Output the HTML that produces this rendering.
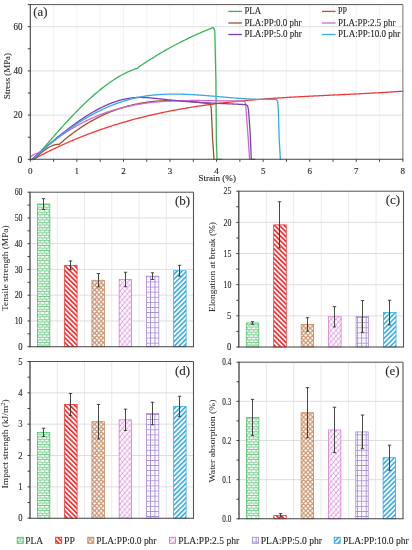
<!DOCTYPE html>
<html><head><meta charset="utf-8"><style>
html,body{margin:0;padding:0;background:#fff;}
svg{display:block;will-change:transform;}
text{font-family:"Liberation Serif", serif;stroke:#2e2e2e;stroke-width:0.15px;}
</style></head><body>
<svg width="412" height="550" viewBox="0 0 412 550">
<rect width="412" height="550" fill="#fff"/>

<defs>
<pattern id="p_green" patternUnits="userSpaceOnUse" width="8.8" height="5.1" x="0.3" y="0.2">
  <rect width="8.8" height="5.1" fill="#fff"/>
  <rect x="0" y="0" width="8.8" height="0.65" fill="#49bd66"/>
  <rect x="0" y="2.95" width="8.8" height="0.65" fill="#49bd66"/>
  <rect x="0" y="0" width="0.65" height="3" fill="#49bd66"/>
  <rect x="4.4" y="0" width="0.65" height="3" fill="#49bd66"/>
  <rect x="2.2" y="2.9" width="0.65" height="2.2" fill="#49bd66"/>
  <rect x="6.6" y="2.9" width="0.65" height="2.2" fill="#49bd66"/>
</pattern>
<pattern id="p_red" patternUnits="userSpaceOnUse" width="3.4" height="3.4" patternTransform="rotate(-45)">
  <rect width="3.4" height="3.4" fill="#fff"/>
  <rect width="1.6" height="3.4" fill="#ff2424"/>
</pattern>
<pattern id="p_blue" patternUnits="userSpaceOnUse" width="3.4" height="3.4" patternTransform="rotate(45)">
  <rect width="3.4" height="3.4" fill="#fff"/>
  <rect width="1.5" height="3.4" fill="#2da7e2"/>
</pattern>
<pattern id="p_purple" patternUnits="userSpaceOnUse" width="4.4" height="5.1" x="0.5" y="1">
  <rect width="4.4" height="5.1" fill="#fff"/>
  <rect width="4.4" height="0.85" fill="#a68bd8"/>
  <rect width="0.85" height="5.1" fill="#a68bd8"/>
  <rect y="2.5" width="4.4" height="0.5" fill="#a68bd8" opacity="0.3"/>
</pattern>
<pattern id="p_pink" patternUnits="userSpaceOnUse" width="4.8" height="5.6">
  <rect width="4.8" height="5.6" fill="#fff"/>
  <path d="M-0.48,6.16 L5.28,-0.56 M-0.48,0.56 L0.48,-0.56 M4.32,6.16 L5.28,5.04" stroke="#d674d6" stroke-width="0.8" fill="none"/>
  <path d="M-0.48,-0.56 L5.28,6.16" stroke="#d674d6" stroke-width="0.65" fill="none" opacity="0.8"/>
</pattern>
<pattern id="p_brown" patternUnits="userSpaceOnUse" width="4.4" height="4.8">
  <rect width="4.4" height="4.8" fill="#fff"/>
  <path d="M-0.5,-0.5 Q2.8,1.4 4.9,5.3 M4.9,-0.5 Q1.6,1.4 -0.5,5.3" stroke="#c4845a" stroke-width="0.95" fill="none"/>
</pattern>
</defs>
<line x1="53.59" y1="4.6" x2="53.59" y2="159.3" stroke="#f0f0f0" stroke-width="0.8"/>
<line x1="76.87" y1="4.6" x2="76.87" y2="159.3" stroke="#f0f0f0" stroke-width="0.8"/>
<line x1="100.16" y1="4.6" x2="100.16" y2="159.3" stroke="#f0f0f0" stroke-width="0.8"/>
<line x1="123.44" y1="4.6" x2="123.44" y2="159.3" stroke="#f0f0f0" stroke-width="0.8"/>
<line x1="146.72" y1="4.6" x2="146.72" y2="159.3" stroke="#f0f0f0" stroke-width="0.8"/>
<line x1="170.01" y1="4.6" x2="170.01" y2="159.3" stroke="#f0f0f0" stroke-width="0.8"/>
<line x1="193.3" y1="4.6" x2="193.3" y2="159.3" stroke="#f0f0f0" stroke-width="0.8"/>
<line x1="216.58" y1="4.6" x2="216.58" y2="159.3" stroke="#f0f0f0" stroke-width="0.8"/>
<line x1="239.87" y1="4.6" x2="239.87" y2="159.3" stroke="#f0f0f0" stroke-width="0.8"/>
<line x1="263.15" y1="4.6" x2="263.15" y2="159.3" stroke="#f0f0f0" stroke-width="0.8"/>
<line x1="286.44" y1="4.6" x2="286.44" y2="159.3" stroke="#f0f0f0" stroke-width="0.8"/>
<line x1="309.72" y1="4.6" x2="309.72" y2="159.3" stroke="#f0f0f0" stroke-width="0.8"/>
<line x1="333" y1="4.6" x2="333" y2="159.3" stroke="#f0f0f0" stroke-width="0.8"/>
<line x1="356.29" y1="4.6" x2="356.29" y2="159.3" stroke="#f0f0f0" stroke-width="0.8"/>
<line x1="379.57" y1="4.6" x2="379.57" y2="159.3" stroke="#f0f0f0" stroke-width="0.8"/>
<line x1="30.3" y1="115.1" x2="402.86" y2="115.1" stroke="#d9d9d9" stroke-width="0.9"/>
<line x1="30.3" y1="70.9" x2="402.86" y2="70.9" stroke="#d9d9d9" stroke-width="0.9"/>
<line x1="30.3" y1="26.7" x2="402.86" y2="26.7" stroke="#d9d9d9" stroke-width="0.9"/>
<g fill="none" stroke-width="1.3" stroke-linejoin="round" stroke-linecap="round">
<path d="M34.96,158.48 L35.89,157.98 L36.82,157.48 L37.75,156.99 L38.68,156.49 L39.61,156.01 L40.55,155.52 L41.48,155.03 L42.41,154.55 L43.34,154.08 L44.27,153.6 L45.2,153.13 L46.13,152.66 L47.07,152.19 L48,151.73 L48.93,151.26 L49.86,150.8 L50.79,150.35 L51.72,149.89 L52.65,149.44 L53.59,149 L54.52,148.55 L55.45,148.11 L56.38,147.67 L57.31,147.23 L58.24,146.79 L59.17,146.36 L60.1,145.93 L61.04,145.5 L61.97,145.08 L62.9,144.66 L63.83,144.24 L64.76,143.82 L65.69,143.41 L66.62,142.99 L67.56,142.58 L68.49,142.18 L69.42,141.77 L70.35,141.37 L71.28,140.97 L72.21,140.57 L73.14,140.18 L74.08,139.79 L75.01,139.4 L75.94,139.01 L76.87,138.63 L77.8,138.25 L78.73,137.87 L79.66,137.49 L80.6,137.11 L81.53,136.74 L82.46,136.37 L83.39,136 L84.32,135.64 L85.25,135.28 L86.18,134.92 L87.12,134.56 L88.05,134.2 L88.98,133.85 L89.91,133.5 L90.84,133.15 L91.77,132.8 L92.7,132.46 L93.64,132.12 L94.57,131.78 L95.5,131.44 L96.43,131.1 L97.36,130.77 L98.29,130.44 L99.22,130.11 L100.16,129.79 L101.09,129.46 L102.02,129.14 L102.95,128.82 L103.88,128.5 L104.81,128.19 L105.74,127.88 L106.67,127.57 L107.61,127.26 L108.54,126.95 L109.47,126.65 L110.4,126.34 L111.33,126.04 L112.26,125.75 L113.19,125.45 L114.13,125.16 L115.06,124.87 L115.99,124.58 L116.92,124.29 L117.85,124 L118.78,123.72 L119.71,123.44 L120.65,123.16 L121.58,122.88 L122.51,122.61 L123.44,122.33 L124.37,122.06 L125.3,121.79 L126.23,121.53 L127.17,121.26 L128.1,121 L129.03,120.74 L129.96,120.48 L130.89,120.22 L131.82,119.96 L132.75,119.71 L133.69,119.46 L134.62,119.21 L135.55,118.96 L136.48,118.72 L137.41,118.47 L138.34,118.23 L139.27,117.99 L140.21,117.75 L141.14,117.51 L142.07,117.28 L143,117.05 L143.93,116.82 L144.86,116.59 L145.79,116.36 L146.73,116.13 L147.66,115.91 L148.59,115.69 L149.52,115.47 L150.45,115.25 L151.38,115.03 L152.31,114.81 L153.24,114.6 L154.18,114.39 L155.11,114.18 L156.04,113.97 L156.97,113.76 L157.9,113.56 L158.83,113.36 L159.76,113.15 L160.7,112.95 L161.63,112.76 L162.56,112.56 L163.49,112.36 L164.42,112.17 L165.35,111.98 L166.28,111.79 L167.22,111.6 L168.15,111.41 L169.08,111.23 L170.01,111.04 L170.94,110.86 L171.87,110.68 L172.8,110.5 L173.74,110.32 L174.67,110.15 L175.6,109.97 L176.53,109.8 L177.46,109.63 L178.39,109.46 L179.32,109.29 L180.26,109.12 L181.19,108.96 L182.12,108.79 L183.05,108.63 L183.98,108.47 L184.91,108.31 L185.84,108.15 L186.78,107.99 L187.71,107.84 L188.64,107.68 L189.57,107.53 L190.5,107.38 L191.43,107.23 L192.36,107.08 L193.3,106.93 L194.23,106.79 L195.16,106.64 L196.09,106.5 L197.02,106.36 L197.95,106.21 L198.88,106.08 L199.81,105.94 L200.75,105.8 L201.68,105.66 L202.61,105.53 L203.54,105.4 L204.47,105.26 L205.4,105.13 L206.33,105 L207.27,104.88 L208.2,104.75 L209.13,104.62 L210.06,104.5 L210.99,104.38 L211.92,104.25 L212.85,104.13 L213.79,104.01 L214.72,103.89 L215.65,103.78 L216.58,103.66 L217.51,103.54 L218.44,103.43 L219.37,103.32 L220.31,103.2 L221.24,103.09 L222.17,102.98 L223.1,102.87 L224.03,102.77 L224.96,102.66 L225.89,102.55 L226.83,102.45 L227.76,102.34 L228.69,102.24 L229.62,102.14 L230.55,102.04 L231.48,101.94 L232.41,101.84 L233.35,101.74 L234.28,101.65 L235.21,101.55 L236.14,101.46 L237.07,101.36 L238,101.27 L238.93,101.18 L239.87,101.09 L240.8,101 L241.73,100.91 L242.66,100.82 L243.59,100.73 L244.52,100.64 L245.45,100.56 L246.38,100.47 L247.32,100.39 L248.25,100.31 L249.18,100.22 L250.11,100.14 L251.04,100.06 L251.97,99.98 L252.9,99.9 L253.84,99.82 L254.77,99.74 L255.7,99.67 L256.63,99.59 L257.56,99.52 L258.49,99.44 L259.42,99.37 L260.36,99.29 L261.29,99.22 L262.22,99.15 L263.15,99.08 L264.08,99.01 L265.01,98.94 L265.94,98.87 L266.88,98.8 L267.81,98.73 L268.74,98.66 L269.67,98.6 L270.6,98.53 L271.53,98.47 L272.46,98.4 L273.4,98.34 L274.33,98.27 L275.26,98.21 L276.19,98.15 L277.12,98.09 L278.05,98.02 L278.98,97.96 L279.92,97.9 L280.85,97.84 L281.78,97.78 L282.71,97.73 L283.64,97.67 L284.57,97.61 L285.5,97.55 L286.44,97.49 L287.37,97.44 L288.3,97.38 L289.23,97.33 L290.16,97.27 L291.09,97.22 L292.02,97.16 L292.95,97.11 L293.89,97.06 L294.82,97 L295.75,96.95 L296.68,96.9 L297.61,96.85 L298.54,96.79 L299.47,96.74 L300.41,96.69 L301.34,96.64 L302.27,96.59 L303.2,96.54 L304.13,96.49 L305.06,96.44 L305.99,96.39 L306.93,96.35 L307.86,96.3 L308.79,96.25 L309.72,96.2 L310.65,96.15 L311.58,96.11 L312.51,96.06 L313.45,96.01 L314.38,95.96 L315.31,95.92 L316.24,95.87 L317.17,95.83 L318.1,95.78 L319.03,95.73 L319.97,95.69 L320.9,95.64 L321.83,95.6 L322.76,95.55 L323.69,95.51 L324.62,95.46 L325.55,95.42 L326.49,95.37 L327.42,95.33 L328.35,95.28 L329.28,95.24 L330.21,95.19 L331.14,95.15 L332.07,95.1 L333.01,95.06 L333.94,95.01 L334.87,94.97 L335.8,94.92 L336.73,94.88 L337.66,94.84 L338.59,94.79 L339.52,94.75 L340.46,94.7 L341.39,94.66 L342.32,94.61 L343.25,94.57 L344.18,94.52 L345.11,94.48 L346.04,94.43 L346.98,94.39 L347.91,94.34 L348.84,94.3 L349.77,94.25 L350.7,94.21 L351.63,94.16 L352.56,94.11 L353.5,94.07 L354.43,94.02 L355.36,93.98 L356.29,93.93 L357.22,93.88 L358.15,93.84 L359.08,93.79 L360.02,93.74 L360.95,93.69 L361.88,93.64 L362.81,93.6 L363.74,93.55 L364.67,93.5 L365.6,93.45 L366.54,93.4 L367.47,93.35 L368.4,93.3 L369.33,93.25 L370.26,93.2 L371.19,93.15 L372.12,93.1 L373.06,93.05 L373.99,93 L374.92,92.94 L375.85,92.89 L376.78,92.84 L377.71,92.78 L378.64,92.73 L379.58,92.68 L380.51,92.62 L381.44,92.57 L382.37,92.51 L383.3,92.46 L384.23,92.4 L385.16,92.34 L386.09,92.28 L387.03,92.23 L387.96,92.17 L388.89,92.11 L389.82,92.05 L390.75,91.99 L391.68,91.93 L392.61,91.87 L393.55,91.81 L394.48,91.75 L395.41,91.68 L396.34,91.62 L397.27,91.56 L398.2,91.49 L399.13,91.43 L400.07,91.36 L401,91.3 L401.93,91.23 L402.86,91.16" stroke="#f03a3a"/>
<path d="M34.21,159.38 L35.14,158.26 L36.07,157.15 L37.01,156.04 L37.94,154.93 L38.87,153.82 L39.8,152.71 L40.73,151.6 L41.66,150.5 L42.59,149.4 L43.53,148.3 L44.46,147.2 L45.39,146.1 L46.32,145.01 L47.25,143.92 L48.18,142.83 L49.11,141.74 L50.05,140.66 L50.98,139.58 L51.91,138.5 L52.84,137.43 L53.77,136.36 L54.7,135.29 L55.63,134.23 L56.57,133.17 L57.5,132.11 L58.43,131.06 L59.36,130.01 L60.29,128.96 L61.22,127.92 L62.15,126.89 L63.09,125.86 L64.02,124.83 L64.95,123.81 L65.88,122.79 L66.81,121.78 L67.74,120.77 L68.67,119.77 L69.61,118.77 L70.54,117.78 L71.47,116.8 L72.4,115.82 L73.33,114.84 L74.26,113.87 L75.19,112.91 L76.12,111.95 L77.06,111 L77.99,110.06 L78.92,109.12 L79.85,108.19 L80.78,107.27 L81.71,106.35 L82.64,105.44 L83.58,104.54 L84.51,103.64 L85.44,102.75 L86.37,101.87 L87.3,100.99 L88.23,100.13 L89.16,99.27 L90.1,98.42 L91.03,97.58 L91.96,96.74 L92.89,95.92 L93.82,95.1 L94.75,94.29 L95.68,93.49 L96.62,92.69 L97.55,91.91 L98.48,91.14 L99.41,90.37 L100.34,89.62 L101.27,88.87 L102.2,88.13 L103.14,87.4 L104.07,86.68 L105,85.98 L105.93,85.28 L106.86,84.59 L107.79,83.91 L108.72,83.24 L109.66,82.58 L110.59,81.93 L111.52,81.3 L112.45,80.67 L113.38,80.06 L114.31,79.45 L115.24,78.86 L116.18,78.27 L117.11,77.7 L118.04,77.14 L118.97,76.6 L119.9,76.06 L120.83,75.53 L121.76,75.02 L122.69,74.52 L123.63,74.03 L124.56,73.55 L125.49,73.09 L126.42,72.64 L127.35,72.2 L128.28,71.77 L129.21,71.36 L130.15,70.96 L131.08,70.57 L132.01,70.2 L132.94,69.83 L133.87,69.49 L134.8,69.15 L135.73,68.83 L136.67,68.52 L137.6,68.23 L137.88,68.15 L138.81,66.95 L139.74,66.31 L140.67,65.68 L141.6,65.06 L142.53,64.44 L143.47,63.82 L144.4,63.2 L145.33,62.59 L146.26,61.99 L147.19,61.38 L148.12,60.79 L149.05,60.19 L149.98,59.6 L150.92,59.01 L151.85,58.43 L152.78,57.85 L153.71,57.27 L154.64,56.69 L155.57,56.13 L156.5,55.56 L157.44,55 L158.37,54.44 L159.3,53.88 L160.23,53.33 L161.16,52.78 L162.09,52.24 L163.02,51.7 L163.96,51.16 L164.89,50.63 L165.82,50.1 L166.75,49.57 L167.68,49.05 L168.61,48.53 L169.54,48.01 L170.48,47.5 L171.41,46.99 L172.34,46.48 L173.27,45.98 L174.2,45.48 L175.13,44.98 L176.06,44.49 L177,44 L177.93,43.52 L178.86,43.04 L179.79,42.56 L180.72,42.08 L181.65,41.61 L182.58,41.14 L183.52,40.68 L184.45,40.21 L185.38,39.76 L186.31,39.3 L187.24,38.85 L188.17,38.4 L189.1,37.95 L190.04,37.51 L190.97,37.07 L191.9,36.64 L192.83,36.2 L193.76,35.77 L194.69,35.35 L195.62,34.93 L196.55,34.51 L197.49,34.09 L198.42,33.67 L199.35,33.26 L200.28,32.86 L201.21,32.45 L202.14,32.05 L203.07,31.65 L204.01,31.26 L204.94,30.87 L205.87,30.48 L206.8,30.09 L207.73,29.71 L208.66,29.33 L209.59,28.95 L210.53,28.58 L211.46,28.21 L212.39,27.84 L213.09,27.57 L214.02,28.47 L214.81,31.12 L215.88,78.19 L216.35,140.07 L217.05,159.3 L221.24,159.3" stroke="#38b556"/>
<path d="M34.21,159.34 L35.14,158.43 L36.07,157.54 L37.01,156.66 L37.94,155.8 L38.87,154.95 L39.8,154.12 L40.73,153.31 L41.66,152.53 L42.59,151.77 L43.53,151.03 L44.46,150.32 L45.39,149.64 L46.32,148.99 L47.25,148.37 L48.18,147.78 L49.11,147.23 L50.05,146.72 L50.98,146.24 L51.91,145.81 L52.84,145.41 L53.77,145.06 L54.7,144.76 L55.45,144.55 L58.24,144.27 L59.17,144.39 L60.1,143.57 L61.04,142.75 L61.97,141.95 L62.9,141.15 L63.83,140.37 L64.76,139.59 L65.69,138.82 L66.62,138.07 L67.56,137.32 L68.49,136.58 L69.42,135.84 L70.35,135.12 L71.28,134.41 L72.21,133.7 L73.14,133.01 L74.08,132.32 L75.01,131.64 L75.94,130.97 L76.87,130.31 L77.8,129.66 L78.73,129.01 L79.66,128.38 L80.6,127.75 L81.53,127.13 L82.46,126.52 L83.39,125.92 L84.32,125.33 L85.25,124.74 L86.18,124.16 L87.12,123.59 L88.05,123.03 L88.98,122.48 L89.91,121.93 L90.84,121.4 L91.77,120.87 L92.7,120.35 L93.64,119.83 L94.57,119.33 L95.5,118.83 L96.43,118.34 L97.36,117.86 L98.29,117.39 L99.22,116.92 L100.16,116.46 L101.09,116.01 L102.02,115.56 L102.95,115.13 L103.88,114.7 L104.81,114.28 L105.74,113.86 L106.67,113.45 L107.61,113.05 L108.54,112.66 L109.47,112.27 L110.4,111.9 L111.33,111.52 L112.26,111.16 L113.19,110.8 L114.13,110.45 L115.06,110.11 L115.99,109.77 L116.92,109.44 L117.85,109.12 L118.78,108.8 L119.71,108.49 L120.65,108.19 L121.58,107.89 L122.51,107.6 L123.44,107.32 L124.37,107.04 L125.3,106.77 L126.23,106.51 L127.17,106.25 L128.1,106 L129.03,105.76 L129.96,105.52 L130.89,105.29 L131.82,105.06 L132.75,104.84 L133.69,104.63 L134.62,104.42 L135.55,104.22 L136.48,104.02 L137.41,103.83 L138.34,103.65 L139.27,103.47 L140.21,103.29 L141.14,103.13 L142.07,102.97 L143,102.81 L143.93,102.66 L144.86,102.52 L145.79,102.38 L146.73,102.25 L147.66,102.12 L148.59,102 L149.52,101.88 L150.45,101.77 L151.38,101.66 L152.31,101.56 L153.24,101.46 L154.18,101.37 L155.11,101.29 L156.04,101.21 L156.97,101.13 L157.9,101.06 L158.83,101 L159.76,100.94 L160.7,100.88 L161.63,100.83 L162.56,100.79 L163.49,100.74 L164.42,100.71 L165.35,100.68 L166.28,100.65 L167.22,100.63 L168.15,100.61 L169.08,100.6 L170.01,100.59 L170.94,100.58 L171.87,100.58 L172.8,100.59 L173.74,100.6 L174.67,100.61 L175.6,100.63 L176.53,100.65 L177.46,100.67 L178.39,100.7 L179.32,100.73 L180.26,100.77 L181.19,100.81 L182.12,100.86 L183.05,100.91 L183.98,100.96 L184.91,101.02 L185.84,101.08 L186.78,101.14 L187.71,101.21 L188.64,101.28 L189.57,101.36 L190.5,101.44 L191.43,101.52 L192.36,101.61 L193.3,101.7 L194.23,101.79 L195.16,101.88 L196.09,101.98 L197.02,102.09 L197.95,102.19 L198.88,102.3 L199.81,102.41 L200.75,102.53 L201.68,102.65 L202.61,102.77 L203.54,102.89 L204.47,103.02 L205.4,103.15 L206.33,103.28 L207.27,103.42 L208.2,103.56 L208.66,103.63 L210.43,104.05 L211.27,108.47 L212.67,140.07 L214.02,159.3" stroke="#a0522d"/>
<path d="M30.3,157.09 L31.23,156.2 L32.16,155.47 L33.09,154.88 L34.03,154.39 L34.96,153.99 L35.89,153.64 L36.82,153.31 L37.75,152.99 L38.68,152.64 L39.61,152.24 L40.08,152.01 L41.01,151.62 L41.94,150.79 L42.87,149.97 L43.81,149.16 L44.74,148.36 L45.67,147.57 L46.6,146.79 L47.53,146.01 L48.46,145.25 L49.39,144.49 L50.33,143.74 L51.26,143 L52.19,142.27 L53.12,141.54 L54.05,140.83 L54.98,140.12 L55.91,139.42 L56.84,138.73 L57.78,138.05 L58.71,137.37 L59.64,136.7 L60.57,136.05 L61.5,135.39 L62.43,134.75 L63.36,134.12 L64.3,133.49 L65.23,132.87 L66.16,132.26 L67.09,131.65 L68.02,131.06 L68.95,130.47 L69.88,129.88 L70.82,129.31 L71.75,128.74 L72.68,128.18 L73.61,127.63 L74.54,127.08 L75.47,126.55 L76.4,126.02 L77.34,125.49 L78.27,124.98 L79.2,124.47 L80.13,123.96 L81.06,123.47 L81.99,122.98 L82.92,122.5 L83.86,122.02 L84.79,121.55 L85.72,121.09 L86.65,120.64 L87.58,120.19 L88.51,119.75 L89.44,119.31 L90.38,118.88 L91.31,118.46 L92.24,118.04 L93.17,117.63 L94.1,117.23 L95.03,116.83 L95.96,116.44 L96.9,116.06 L97.83,115.68 L98.76,115.3 L99.69,114.94 L100.62,114.58 L101.55,114.22 L102.48,113.87 L103.41,113.53 L104.35,113.19 L105.28,112.86 L106.21,112.53 L107.14,112.21 L108.07,111.9 L109,111.59 L109.93,111.28 L110.87,110.98 L111.8,110.69 L112.73,110.4 L113.66,110.12 L114.59,109.84 L115.52,109.57 L116.45,109.3 L117.39,109.04 L118.32,108.79 L119.25,108.53 L120.18,108.29 L121.11,108.04 L122.04,107.81 L122.97,107.58 L123.91,107.35 L124.84,107.13 L125.77,106.91 L126.7,106.69 L127.63,106.49 L128.56,106.28 L129.49,106.08 L130.43,105.89 L131.36,105.7 L132.29,105.51 L133.22,105.33 L134.15,105.15 L135.08,104.98 L136.01,104.81 L136.95,104.64 L137.88,104.48 L138.81,104.32 L139.74,104.17 L140.67,104.02 L141.6,103.87 L142.53,103.73 L143.47,103.59 L144.4,103.46 L145.33,103.33 L146.26,103.2 L147.19,103.08 L148.12,102.96 L149.05,102.85 L149.98,102.73 L150.92,102.62 L151.85,102.52 L152.78,102.42 L153.71,102.32 L154.64,102.22 L155.57,102.13 L156.5,102.04 L157.44,101.95 L158.37,101.87 L159.3,101.79 L160.23,101.71 L161.16,101.64 L162.09,101.57 L163.02,101.5 L163.96,101.43 L164.89,101.37 L165.82,101.31 L166.75,101.25 L167.68,101.2 L168.61,101.14 L169.54,101.09 L170.48,101.04 L171.41,101 L172.34,100.96 L173.27,100.92 L174.2,100.88 L175.13,100.84 L176.06,100.81 L177,100.78 L177.93,100.75 L178.86,100.72 L179.79,100.69 L180.72,100.67 L181.65,100.65 L182.58,100.63 L183.52,100.61 L184.45,100.59 L185.38,100.58 L186.31,100.56 L187.24,100.55 L188.17,100.54 L189.1,100.53 L190.04,100.52 L190.97,100.52 L191.9,100.52 L192.83,100.51 L193.76,100.51 L194.69,100.51 L195.62,100.51 L196.55,100.51 L197.49,100.52 L198.42,100.52 L199.35,100.52 L200.28,100.53 L201.21,100.54 L202.14,100.55 L203.07,100.55 L204.01,100.56 L204.94,100.57 L205.87,100.58 L206.8,100.6 L207.73,100.61 L208.66,100.62 L209.59,100.63 L210.53,100.65 L211.46,100.66 L212.39,100.67 L213.32,100.69 L214.25,100.7 L215.18,100.72 L216.11,100.73 L217.05,100.75 L217.98,100.76 L218.91,100.78 L219.84,100.8 L220.77,100.81 L221.7,100.83 L222.63,100.84 L223.57,100.86 L224.5,100.87 L225.43,100.88 L226.36,100.9 L227.29,100.91 L228.22,100.92 L229.15,100.94 L230.09,100.95 L231.02,100.96 L231.95,100.97 L232.88,100.98 L233.81,100.99 L234.74,101 L235.67,101.01 L236.61,101.01 L237.54,101.02 L238.47,101.02 L239.4,101.03 L240.33,101.03 L241.26,101.03 L242.19,101.03 L243.12,101.03 L243.59,101.03 L244.75,101.84 L245.59,104.05 L247.88,133.89 L249.6,159.3" stroke="#cf68cf"/>
<path d="M31.7,159.29 L32.63,158.48 L33.56,157.66 L34.49,156.85 L35.42,156.04 L36.35,155.23 L37.29,154.42 L38.22,153.62 L39.15,152.81 L40.08,152 L41.01,151.2 L41.94,150.4 L42.87,149.6 L43.81,148.8 L44.74,148 L45.67,147.21 L46.6,146.41 L47.53,145.62 L48.46,144.83 L49.39,144.05 L50.33,143.26 L51.26,142.48 L52.19,141.7 L53.12,140.93 L54.05,140.16 L54.98,139.39 L55.91,138.62 L56.84,137.86 L57.78,137.1 L58.71,136.35 L59.64,135.59 L60.57,134.85 L61.5,134.1 L62.43,133.36 L63.36,132.63 L64.3,131.89 L65.23,131.17 L66.16,130.44 L67.09,129.73 L68.02,129.01 L68.95,128.3 L69.88,127.6 L70.82,126.9 L71.75,126.21 L72.68,125.52 L73.61,124.84 L74.54,124.16 L75.47,123.49 L76.4,122.83 L77.34,122.17 L78.27,121.51 L79.2,120.87 L80.13,120.22 L81.06,119.59 L81.99,118.96 L82.92,118.34 L83.86,117.72 L84.79,117.12 L85.72,116.52 L86.65,115.92 L87.58,115.33 L88.51,114.75 L89.44,114.18 L90.38,113.62 L91.31,113.06 L92.24,112.51 L93.17,111.97 L94.1,111.44 L95.03,110.91 L95.96,110.39 L96.9,109.88 L97.83,109.38 L98.76,108.89 L99.69,108.41 L100.62,107.93 L101.55,107.47 L102.48,107.01 L103.41,106.56 L104.35,106.13 L105.28,105.7 L106.21,105.28 L107.14,104.87 L108.07,104.47 L109,104.08 L109.93,103.7 L110.87,103.33 L111.8,102.97 L112.73,102.62 L113.66,102.28 L114.59,101.95 L115.52,101.63 L116.45,101.32 L117.39,101.03 L118.32,100.74 L119.25,100.47 L120.18,100.21 L121.11,99.95 L122.04,99.71 L122.97,99.48 L123.91,99.27 L124.84,99.06 L125.77,98.87 L126.7,98.69 L127.63,98.52 L128.56,98.36 L129.49,98.22 L130.43,98.08 L131.36,97.96 L132.29,97.86 L133.22,97.76 L134.15,97.68 L135.08,97.61 L136.01,97.56 L136.95,97.51 L137.88,97.48 L138.81,97.46 L139.74,97.45 L140.67,97.45 L141.6,97.46 L142.53,97.48 L143.47,97.51 L144.4,97.54 L145.33,97.58 L146.26,97.63 L147.19,97.69 L148.12,97.75 L149.05,97.82 L149.98,97.89 L150.92,97.97 L151.85,98.05 L152.78,98.14 L153.71,98.23 L154.64,98.32 L155.57,98.41 L156.5,98.51 L157.44,98.61 L158.37,98.7 L159.3,98.8 L160.23,98.9 L161.16,99 L162.09,99.1 L163.02,99.2 L163.96,99.3 L164.89,99.4 L165.82,99.5 L166.75,99.6 L167.68,99.7 L168.61,99.8 L169.54,99.9 L170.48,100 L171.41,100.1 L172.34,100.19 L173.27,100.29 L174.2,100.39 L175.13,100.49 L176.06,100.58 L177,100.68 L177.93,100.77 L178.86,100.86 L179.79,100.96 L180.72,101.05 L181.65,101.14 L182.58,101.22 L183.52,101.31 L184.45,101.39 L185.38,101.48 L186.31,101.56 L187.24,101.64 L188.17,101.72 L189.1,101.79 L190.04,101.87 L190.97,101.94 L191.9,102.01 L192.83,102.07 L193.76,102.14 L194.69,102.2 L195.62,102.27 L196.55,102.33 L197.49,102.38 L198.42,102.44 L199.35,102.5 L200.28,102.55 L201.21,102.6 L202.14,102.65 L203.07,102.7 L204.01,102.75 L204.94,102.8 L205.87,102.85 L206.8,102.89 L207.73,102.93 L208.66,102.98 L209.59,103.02 L210.53,103.06 L211.46,103.1 L212.39,103.14 L213.32,103.18 L214.25,103.22 L215.18,103.26 L216.11,103.3 L217.05,103.34 L217.98,103.38 L218.91,103.41 L219.84,103.45 L220.77,103.49 L221.7,103.53 L222.63,103.56 L223.57,103.6 L224.5,103.64 L225.43,103.68 L226.36,103.71 L227.29,103.75 L228.22,103.79 L229.15,103.83 L230.09,103.87 L231.02,103.91 L231.95,103.96 L232.88,104 L233.81,104.04 L234.74,104.09 L235.67,104.13 L236.61,104.18 L237.54,104.22 L238.47,104.27 L239.4,104.32 L240.33,104.37 L241.26,104.43 L242.19,104.48 L243.12,104.53 L244.06,104.59 L244.99,104.65 L245.92,104.71 L247.55,105.6 L248.53,110.02 L250.2,133.89 L251.27,159.3 L254.77,159.3" stroke="#7a42b8"/>
<path d="M32.16,159.75 L33.09,158.87 L34.03,157.99 L34.96,157.13 L35.89,156.26 L36.82,155.41 L37.75,154.56 L38.68,153.71 L39.61,152.87 L40.55,152.03 L41.48,151.2 L42.41,150.38 L43.34,149.56 L44.27,148.75 L45.2,147.94 L46.13,147.14 L47.07,146.34 L48,145.55 L48.93,144.76 L49.86,143.98 L50.79,143.21 L51.72,142.44 L52.65,141.68 L53.58,140.92 L54.52,140.17 L55.45,139.42 L56.38,138.68 L57.31,137.95 L58.24,137.22 L59.17,136.5 L60.1,135.78 L61.04,135.07 L61.97,134.36 L62.9,133.66 L63.83,132.97 L64.76,132.28 L65.69,131.6 L66.62,130.92 L67.56,130.25 L68.49,129.58 L69.42,128.93 L70.35,128.27 L71.28,127.62 L72.21,126.98 L73.14,126.35 L74.08,125.72 L75.01,125.09 L75.94,124.48 L76.87,123.86 L77.8,123.26 L78.73,122.66 L79.66,122.07 L80.6,121.48 L81.53,120.9 L82.46,120.32 L83.39,119.75 L84.32,119.19 L85.25,118.63 L86.18,118.08 L87.12,117.53 L88.05,116.99 L88.98,116.46 L89.91,115.94 L90.84,115.41 L91.77,114.9 L92.7,114.39 L93.64,113.89 L94.57,113.39 L95.5,112.9 L96.43,112.42 L97.36,111.94 L98.29,111.47 L99.22,111.01 L100.15,110.55 L101.09,110.1 L102.02,109.65 L102.95,109.21 L103.88,108.78 L104.81,108.35 L105.74,107.93 L106.67,107.52 L107.61,107.11 L108.54,106.71 L109.47,106.31 L110.4,105.92 L111.33,105.54 L112.26,105.17 L113.19,104.8 L114.13,104.44 L115.06,104.08 L115.99,103.73 L116.92,103.39 L117.85,103.05 L118.78,102.72 L119.71,102.4 L120.65,102.08 L121.58,101.77 L122.51,101.46 L123.44,101.17 L124.37,100.88 L125.3,100.59 L126.23,100.31 L127.17,100.04 L128.1,99.78 L129.03,99.52 L129.96,99.27 L130.89,99.03 L131.82,98.79 L132.75,98.56 L133.69,98.33 L134.62,98.12 L135.55,97.91 L136.48,97.7 L137.41,97.51 L138.34,97.31 L139.27,97.13 L140.21,96.95 L141.14,96.78 L142.07,96.61 L143,96.45 L143.93,96.3 L144.86,96.15 L145.79,96.01 L146.72,95.87 L147.66,95.74 L148.59,95.62 L149.52,95.5 L150.45,95.39 L151.38,95.28 L152.31,95.17 L153.24,95.08 L154.18,94.98 L155.11,94.9 L156.04,94.81 L156.97,94.73 L157.9,94.66 L158.83,94.59 L159.76,94.53 L160.7,94.47 L161.63,94.42 L162.56,94.37 L163.49,94.32 L164.42,94.28 L165.35,94.24 L166.28,94.21 L167.22,94.18 L168.15,94.16 L169.08,94.13 L170.01,94.12 L170.94,94.1 L171.87,94.09 L172.8,94.09 L173.74,94.08 L174.67,94.09 L175.6,94.09 L176.53,94.1 L177.46,94.11 L178.39,94.12 L179.32,94.14 L180.26,94.16 L181.19,94.18 L182.12,94.21 L183.05,94.23 L183.98,94.26 L184.91,94.3 L185.84,94.33 L186.78,94.37 L187.71,94.41 L188.64,94.46 L189.57,94.5 L190.5,94.55 L191.43,94.6 L192.36,94.65 L193.29,94.7 L194.23,94.76 L195.16,94.81 L196.09,94.87 L197.02,94.93 L197.95,94.99 L198.88,95.06 L199.81,95.12 L200.75,95.19 L201.68,95.25 L202.61,95.32 L203.54,95.39 L204.47,95.46 L205.4,95.54 L206.33,95.61 L207.27,95.68 L208.2,95.76 L209.13,95.83 L210.06,95.91 L210.99,95.99 L211.92,96.06 L212.85,96.14 L213.79,96.22 L214.72,96.3 L215.65,96.38 L216.58,96.46 L217.51,96.54 L218.44,96.62 L219.37,96.7 L220.31,96.78 L221.24,96.86 L222.17,96.94 L223.1,97.02 L224.03,97.1 L224.96,97.18 L225.89,97.26 L226.83,97.34 L227.76,97.42 L228.69,97.5 L229.62,97.58 L230.55,97.65 L231.48,97.73 L232.41,97.8 L233.35,97.88 L234.28,97.95 L235.21,98.03 L236.14,98.1 L237.07,98.17 L238,98.24 L238.93,98.3 L239.86,98.37 L240.8,98.44 L241.73,98.5 L242.66,98.56 L243.59,98.62 L244.52,98.68 L245.45,98.74 L246.38,98.8 L247.32,98.85 L248.25,98.9 L249.18,98.95 L250.11,99 L251.04,99.05 L251.97,99.09 L252.9,99.13 L253.84,99.17 L254.77,99.21 L255.7,99.24 L256.63,99.28 L257.56,99.31 L258.49,99.33 L259.42,99.36 L260.36,99.38 L261.29,99.4 L262.22,99.42 L263.15,99.43 L264.08,99.44 L265.01,99.45 L265.94,99.45 L266.88,99.45 L267.81,99.45 L268.74,99.45 L269.67,99.44 L270.6,99.42 L271.53,99.41 L272.46,99.39 L273.4,99.37 L274.33,99.34 L274.79,99.33 L276.66,99.74 L277.59,101.4 L278.29,108.47 L279.22,140.07 L280.38,159.3" stroke="#36abe6"/>
</g>
<line x1="30.3" y1="4.6" x2="402.86" y2="4.6" stroke="#555" stroke-width="1"/>
<line x1="402.86" y1="4.6" x2="402.86" y2="159.3" stroke="#8a8a8a" stroke-width="1.2"/>
<line x1="30.3" y1="4.1" x2="30.3" y2="159.8" stroke="#404040" stroke-width="1.1"/>
<line x1="29.8" y1="159.3" x2="403.36" y2="159.3" stroke="#404040" stroke-width="1.1"/>
<line x1="27.8" y1="159.3" x2="30.3" y2="159.3" stroke="#404040" stroke-width="1"/>
<line x1="27.8" y1="137.2" x2="30.3" y2="137.2" stroke="#404040" stroke-width="1"/>
<line x1="27.8" y1="115.1" x2="30.3" y2="115.1" stroke="#404040" stroke-width="1"/>
<line x1="27.8" y1="93" x2="30.3" y2="93" stroke="#404040" stroke-width="1"/>
<line x1="27.8" y1="70.9" x2="30.3" y2="70.9" stroke="#404040" stroke-width="1"/>
<line x1="27.8" y1="48.8" x2="30.3" y2="48.8" stroke="#404040" stroke-width="1"/>
<line x1="27.8" y1="26.7" x2="30.3" y2="26.7" stroke="#404040" stroke-width="1"/>
<line x1="27.8" y1="4.6" x2="30.3" y2="4.6" stroke="#404040" stroke-width="1"/>
<line x1="30.3" y1="159.3" x2="30.3" y2="161.8" stroke="#404040" stroke-width="1"/>
<line x1="53.59" y1="159.3" x2="53.59" y2="161.8" stroke="#404040" stroke-width="1"/>
<line x1="76.87" y1="159.3" x2="76.87" y2="161.8" stroke="#404040" stroke-width="1"/>
<line x1="100.16" y1="159.3" x2="100.16" y2="161.8" stroke="#404040" stroke-width="1"/>
<line x1="123.44" y1="159.3" x2="123.44" y2="161.8" stroke="#404040" stroke-width="1"/>
<line x1="146.72" y1="159.3" x2="146.72" y2="161.8" stroke="#404040" stroke-width="1"/>
<line x1="170.01" y1="159.3" x2="170.01" y2="161.8" stroke="#404040" stroke-width="1"/>
<line x1="193.3" y1="159.3" x2="193.3" y2="161.8" stroke="#404040" stroke-width="1"/>
<line x1="216.58" y1="159.3" x2="216.58" y2="161.8" stroke="#404040" stroke-width="1"/>
<line x1="239.87" y1="159.3" x2="239.87" y2="161.8" stroke="#404040" stroke-width="1"/>
<line x1="263.15" y1="159.3" x2="263.15" y2="161.8" stroke="#404040" stroke-width="1"/>
<line x1="286.44" y1="159.3" x2="286.44" y2="161.8" stroke="#404040" stroke-width="1"/>
<line x1="309.72" y1="159.3" x2="309.72" y2="161.8" stroke="#404040" stroke-width="1"/>
<line x1="333" y1="159.3" x2="333" y2="161.8" stroke="#404040" stroke-width="1"/>
<line x1="356.29" y1="159.3" x2="356.29" y2="161.8" stroke="#404040" stroke-width="1"/>
<line x1="379.57" y1="159.3" x2="379.57" y2="161.8" stroke="#404040" stroke-width="1"/>
<line x1="402.86" y1="159.3" x2="402.86" y2="161.8" stroke="#404040" stroke-width="1"/>
<text x="22.4" y="162.6" font-size="9.6" text-anchor="end" fill="#2e2e2e">0</text>
<text x="22.4" y="118.4" font-size="9.6" text-anchor="end" textLength="9" lengthAdjust="spacingAndGlyphs" fill="#2e2e2e">20</text>
<text x="22.4" y="74.2" font-size="9.6" text-anchor="end" textLength="9" lengthAdjust="spacingAndGlyphs" fill="#2e2e2e">40</text>
<text x="22.4" y="30" font-size="9.6" text-anchor="end" textLength="9" lengthAdjust="spacingAndGlyphs" fill="#2e2e2e">60</text>
<text x="30.3" y="174.3" font-size="9" text-anchor="middle" fill="#2e2e2e">0</text>
<text x="76.87" y="174.3" font-size="9" text-anchor="middle" fill="#2e2e2e">1</text>
<text x="123.44" y="174.3" font-size="9" text-anchor="middle" fill="#2e2e2e">2</text>
<text x="170.01" y="174.3" font-size="9" text-anchor="middle" fill="#2e2e2e">3</text>
<text x="216.58" y="174.3" font-size="9" text-anchor="middle" fill="#2e2e2e">4</text>
<text x="263.15" y="174.3" font-size="9" text-anchor="middle" fill="#2e2e2e">5</text>
<text x="309.72" y="174.3" font-size="9" text-anchor="middle" fill="#2e2e2e">6</text>
<text x="356.29" y="174.3" font-size="9" text-anchor="middle" fill="#2e2e2e">7</text>
<text x="402.86" y="174.3" font-size="9" text-anchor="middle" fill="#2e2e2e">8</text>
<text x="217.2" y="181.2" font-size="9.2" text-anchor="middle" textLength="37.5" lengthAdjust="spacingAndGlyphs" fill="#2e2e2e">Strain (%)</text>
<text transform="translate(9.5,76) rotate(-90)" font-size="8.8" text-anchor="middle" style="stroke-width:0.1px" fill="#2e2e2e" textLength="46" lengthAdjust="spacingAndGlyphs">Stress (MPa)</text>
<text x="33.3" y="16.4" font-size="12.8" text-anchor="start" style="stroke-width:0.15px" fill="#2e2e2e">(a)</text>
<line x1="228.3" y1="11.4" x2="241.9" y2="11.4" stroke="#38b556" stroke-width="1.3"/>
<text x="244.4" y="13.9" font-size="9.3" text-anchor="start" textLength="16.6" lengthAdjust="spacingAndGlyphs" fill="#2e2e2e">PLA</text>
<line x1="322" y1="11.4" x2="335.6" y2="11.4" stroke="#f03a3a" stroke-width="1.3"/>
<text x="338.1" y="13.9" font-size="9.3" text-anchor="start" textLength="9" lengthAdjust="spacingAndGlyphs" fill="#2e2e2e">PP</text>
<line x1="228.3" y1="23" x2="241.9" y2="23" stroke="#a0522d" stroke-width="1.3"/>
<text x="244.4" y="25.5" font-size="9.3" text-anchor="start" textLength="57" lengthAdjust="spacingAndGlyphs" fill="#2e2e2e">PLA:PP:0.0 phr</text>
<line x1="322" y1="23" x2="335.6" y2="23" stroke="#cf68cf" stroke-width="1.3"/>
<text x="338.1" y="25.5" font-size="9.3" text-anchor="start" textLength="57.5" lengthAdjust="spacingAndGlyphs" fill="#2e2e2e">PLA:PP:2.5 phr</text>
<line x1="228.3" y1="34.5" x2="241.9" y2="34.5" stroke="#7a42b8" stroke-width="1.3"/>
<text x="244.4" y="37" font-size="9.3" text-anchor="start" textLength="57.3" lengthAdjust="spacingAndGlyphs" fill="#2e2e2e">PLA:PP:5.0 phr</text>
<line x1="322" y1="34.5" x2="335.6" y2="34.5" stroke="#36abe6" stroke-width="1.3"/>
<text x="338.1" y="37" font-size="9.3" text-anchor="start" textLength="62.2" lengthAdjust="spacingAndGlyphs" fill="#2e2e2e">PLA:PP:10.0 phr</text>
<line x1="57.25" y1="192.2" x2="57.25" y2="346.7" stroke="#e3e3e3" stroke-width="0.8"/>
<line x1="84.5" y1="192.2" x2="84.5" y2="346.7" stroke="#e3e3e3" stroke-width="0.8"/>
<line x1="111.75" y1="192.2" x2="111.75" y2="346.7" stroke="#e3e3e3" stroke-width="0.8"/>
<line x1="139" y1="192.2" x2="139" y2="346.7" stroke="#e3e3e3" stroke-width="0.8"/>
<line x1="166.25" y1="192.2" x2="166.25" y2="346.7" stroke="#e3e3e3" stroke-width="0.8"/>
<line x1="30" y1="320.95" x2="193.5" y2="320.95" stroke="#dadada" stroke-width="0.9"/>
<line x1="30" y1="295.2" x2="193.5" y2="295.2" stroke="#dadada" stroke-width="0.9"/>
<line x1="30" y1="269.45" x2="193.5" y2="269.45" stroke="#dadada" stroke-width="0.9"/>
<line x1="30" y1="243.7" x2="193.5" y2="243.7" stroke="#dadada" stroke-width="0.9"/>
<line x1="30" y1="217.95" x2="193.5" y2="217.95" stroke="#dadada" stroke-width="0.9"/>
<rect x="37.41" y="204.04" width="12.43" height="142.66" fill="url(#p_green)" stroke="#49bd66" stroke-width="0.75"/>
<rect x="64.66" y="265.33" width="12.43" height="81.37" fill="url(#p_red)" stroke="#ff2424" stroke-width="0.75"/>
<rect x="91.91" y="280.26" width="12.43" height="66.44" fill="url(#p_brown)" stroke="#c4845a" stroke-width="0.75"/>
<rect x="119.16" y="279.49" width="12.43" height="67.21" fill="url(#p_pink)" stroke="#d674d6" stroke-width="0.75"/>
<rect x="146.41" y="276.14" width="12.43" height="70.56" fill="url(#p_purple)" stroke="#a68bd8" stroke-width="0.75"/>
<rect x="173.66" y="270.74" width="12.43" height="75.96" fill="url(#p_blue)" stroke="#2da7e2" stroke-width="0.75"/>
<line x1="43.5" y1="198.64" x2="43.5" y2="209.45" stroke="#333" stroke-width="0.9"/>
<line x1="41.8" y1="198.64" x2="45.2" y2="198.64" stroke="#333" stroke-width="0.9"/>
<line x1="41.8" y1="209.45" x2="45.2" y2="209.45" stroke="#333" stroke-width="0.9"/>
<line x1="70.5" y1="260.95" x2="70.5" y2="269.71" stroke="#333" stroke-width="0.9"/>
<line x1="68.8" y1="260.95" x2="72.2" y2="260.95" stroke="#333" stroke-width="0.9"/>
<line x1="68.8" y1="269.71" x2="72.2" y2="269.71" stroke="#333" stroke-width="0.9"/>
<line x1="98.5" y1="273.57" x2="98.5" y2="286.96" stroke="#333" stroke-width="0.9"/>
<line x1="96.8" y1="273.57" x2="100.2" y2="273.57" stroke="#333" stroke-width="0.9"/>
<line x1="96.8" y1="286.96" x2="100.2" y2="286.96" stroke="#333" stroke-width="0.9"/>
<line x1="125.5" y1="272.28" x2="125.5" y2="286.7" stroke="#333" stroke-width="0.9"/>
<line x1="123.8" y1="272.28" x2="127.2" y2="272.28" stroke="#333" stroke-width="0.9"/>
<line x1="123.8" y1="286.7" x2="127.2" y2="286.7" stroke="#333" stroke-width="0.9"/>
<line x1="152.5" y1="272.8" x2="152.5" y2="279.49" stroke="#333" stroke-width="0.9"/>
<line x1="150.8" y1="272.8" x2="154.2" y2="272.8" stroke="#333" stroke-width="0.9"/>
<line x1="150.8" y1="279.49" x2="154.2" y2="279.49" stroke="#333" stroke-width="0.9"/>
<line x1="179.5" y1="265.33" x2="179.5" y2="276.14" stroke="#333" stroke-width="0.9"/>
<line x1="177.8" y1="265.33" x2="181.2" y2="265.33" stroke="#333" stroke-width="0.9"/>
<line x1="177.8" y1="276.14" x2="181.2" y2="276.14" stroke="#333" stroke-width="0.9"/>
<line x1="30" y1="192.2" x2="193.5" y2="192.2" stroke="#505050" stroke-width="1"/>
<line x1="193.5" y1="192.2" x2="193.5" y2="346.7" stroke="#555555" stroke-width="1.1"/>
<line x1="30" y1="191.7" x2="30" y2="347.2" stroke="#404040" stroke-width="1.3"/>
<line x1="29.5" y1="346.7" x2="194" y2="346.7" stroke="#404040" stroke-width="1.1"/>
<line x1="27.5" y1="346.7" x2="30" y2="346.7" stroke="#404040" stroke-width="1"/>
<line x1="27.5" y1="333.82" x2="30" y2="333.82" stroke="#404040" stroke-width="1"/>
<line x1="27.5" y1="320.95" x2="30" y2="320.95" stroke="#404040" stroke-width="1"/>
<line x1="27.5" y1="308.07" x2="30" y2="308.07" stroke="#404040" stroke-width="1"/>
<line x1="27.5" y1="295.2" x2="30" y2="295.2" stroke="#404040" stroke-width="1"/>
<line x1="27.5" y1="282.32" x2="30" y2="282.32" stroke="#404040" stroke-width="1"/>
<line x1="27.5" y1="269.45" x2="30" y2="269.45" stroke="#404040" stroke-width="1"/>
<line x1="27.5" y1="256.57" x2="30" y2="256.57" stroke="#404040" stroke-width="1"/>
<line x1="27.5" y1="243.7" x2="30" y2="243.7" stroke="#404040" stroke-width="1"/>
<line x1="27.5" y1="230.82" x2="30" y2="230.82" stroke="#404040" stroke-width="1"/>
<line x1="27.5" y1="217.95" x2="30" y2="217.95" stroke="#404040" stroke-width="1"/>
<line x1="27.5" y1="205.07" x2="30" y2="205.07" stroke="#404040" stroke-width="1"/>
<line x1="27.5" y1="192.2" x2="30" y2="192.2" stroke="#404040" stroke-width="1"/>
<text x="22.5" y="349.9" font-size="9.5" text-anchor="end" textLength="4.3" lengthAdjust="spacingAndGlyphs" fill="#2e2e2e">0</text>
<text x="22.5" y="324.15" font-size="9.5" text-anchor="end" textLength="7.8" lengthAdjust="spacingAndGlyphs" fill="#2e2e2e">10</text>
<text x="22.5" y="298.4" font-size="9.5" text-anchor="end" textLength="7.8" lengthAdjust="spacingAndGlyphs" fill="#2e2e2e">20</text>
<text x="22.5" y="272.65" font-size="9.5" text-anchor="end" textLength="7.8" lengthAdjust="spacingAndGlyphs" fill="#2e2e2e">30</text>
<text x="22.5" y="246.9" font-size="9.5" text-anchor="end" textLength="7.8" lengthAdjust="spacingAndGlyphs" fill="#2e2e2e">40</text>
<text x="22.5" y="221.15" font-size="9.5" text-anchor="end" textLength="7.8" lengthAdjust="spacingAndGlyphs" fill="#2e2e2e">50</text>
<text x="22.5" y="195.4" font-size="9.5" text-anchor="end" textLength="7.8" lengthAdjust="spacingAndGlyphs" fill="#2e2e2e">60</text>
<text x="190.2" y="205.2" font-size="13" text-anchor="end" style="stroke-width:0.15px" fill="#2e2e2e">(b)</text>
<text transform="translate(8.2,268.2) rotate(-90)" font-size="8.4" text-anchor="middle" style="stroke-width:0.05px" fill="#2e2e2e" textLength="85.6" lengthAdjust="spacingAndGlyphs">Tensile strength (MPa)</text>
<line x1="266.25" y1="191.2" x2="266.25" y2="347" stroke="#e3e3e3" stroke-width="0.8"/>
<line x1="293.7" y1="191.2" x2="293.7" y2="347" stroke="#e3e3e3" stroke-width="0.8"/>
<line x1="321.15" y1="191.2" x2="321.15" y2="347" stroke="#e3e3e3" stroke-width="0.8"/>
<line x1="348.6" y1="191.2" x2="348.6" y2="347" stroke="#e3e3e3" stroke-width="0.8"/>
<line x1="376.05" y1="191.2" x2="376.05" y2="347" stroke="#e3e3e3" stroke-width="0.8"/>
<line x1="238.8" y1="315.84" x2="403.5" y2="315.84" stroke="#dadada" stroke-width="0.9"/>
<line x1="238.8" y1="284.68" x2="403.5" y2="284.68" stroke="#dadada" stroke-width="0.9"/>
<line x1="238.8" y1="253.52" x2="403.5" y2="253.52" stroke="#dadada" stroke-width="0.9"/>
<line x1="238.8" y1="222.36" x2="403.5" y2="222.36" stroke="#dadada" stroke-width="0.9"/>
<rect x="246.27" y="322.94" width="12.52" height="24.06" fill="url(#p_green)" stroke="#49bd66" stroke-width="0.75"/>
<rect x="273.72" y="224.85" width="12.52" height="122.15" fill="url(#p_red)" stroke="#ff2424" stroke-width="0.75"/>
<rect x="301.17" y="324.44" width="12.52" height="22.56" fill="url(#p_brown)" stroke="#c4845a" stroke-width="0.75"/>
<rect x="328.62" y="316.77" width="12.52" height="30.23" fill="url(#p_pink)" stroke="#d674d6" stroke-width="0.75"/>
<rect x="356.07" y="316.46" width="12.52" height="30.54" fill="url(#p_purple)" stroke="#a68bd8" stroke-width="0.75"/>
<rect x="383.52" y="312.6" width="12.52" height="34.4" fill="url(#p_blue)" stroke="#2da7e2" stroke-width="0.75"/>
<line x1="252.5" y1="321.7" x2="252.5" y2="324.19" stroke="#333" stroke-width="0.9"/>
<line x1="250.8" y1="321.7" x2="254.2" y2="321.7" stroke="#333" stroke-width="0.9"/>
<line x1="250.8" y1="324.19" x2="254.2" y2="324.19" stroke="#333" stroke-width="0.9"/>
<line x1="279.5" y1="201.79" x2="279.5" y2="247.91" stroke="#333" stroke-width="0.9"/>
<line x1="277.8" y1="201.79" x2="281.2" y2="201.79" stroke="#333" stroke-width="0.9"/>
<line x1="277.8" y1="247.91" x2="281.2" y2="247.91" stroke="#333" stroke-width="0.9"/>
<line x1="307.5" y1="317.71" x2="307.5" y2="331.17" stroke="#333" stroke-width="0.9"/>
<line x1="305.8" y1="317.71" x2="309.2" y2="317.71" stroke="#333" stroke-width="0.9"/>
<line x1="305.8" y1="331.17" x2="309.2" y2="331.17" stroke="#333" stroke-width="0.9"/>
<line x1="334.5" y1="306.62" x2="334.5" y2="326.93" stroke="#333" stroke-width="0.9"/>
<line x1="332.8" y1="306.62" x2="336.2" y2="306.62" stroke="#333" stroke-width="0.9"/>
<line x1="332.8" y1="326.93" x2="336.2" y2="326.93" stroke="#333" stroke-width="0.9"/>
<line x1="362.5" y1="300.57" x2="362.5" y2="332.35" stroke="#333" stroke-width="0.9"/>
<line x1="360.8" y1="300.57" x2="364.2" y2="300.57" stroke="#333" stroke-width="0.9"/>
<line x1="360.8" y1="332.35" x2="364.2" y2="332.35" stroke="#333" stroke-width="0.9"/>
<line x1="389.5" y1="300.26" x2="389.5" y2="324.94" stroke="#333" stroke-width="0.9"/>
<line x1="387.8" y1="300.26" x2="391.2" y2="300.26" stroke="#333" stroke-width="0.9"/>
<line x1="387.8" y1="324.94" x2="391.2" y2="324.94" stroke="#333" stroke-width="0.9"/>
<line x1="238.8" y1="191.2" x2="403.5" y2="191.2" stroke="#505050" stroke-width="1"/>
<line x1="403.5" y1="191.2" x2="403.5" y2="347" stroke="#555555" stroke-width="1.1"/>
<line x1="238.8" y1="190.7" x2="238.8" y2="347.5" stroke="#404040" stroke-width="1.3"/>
<line x1="238.3" y1="347" x2="404" y2="347" stroke="#404040" stroke-width="1.1"/>
<line x1="236.3" y1="347" x2="238.8" y2="347" stroke="#404040" stroke-width="1"/>
<line x1="236.3" y1="331.42" x2="238.8" y2="331.42" stroke="#404040" stroke-width="1"/>
<line x1="236.3" y1="315.84" x2="238.8" y2="315.84" stroke="#404040" stroke-width="1"/>
<line x1="236.3" y1="300.26" x2="238.8" y2="300.26" stroke="#404040" stroke-width="1"/>
<line x1="236.3" y1="284.68" x2="238.8" y2="284.68" stroke="#404040" stroke-width="1"/>
<line x1="236.3" y1="269.1" x2="238.8" y2="269.1" stroke="#404040" stroke-width="1"/>
<line x1="236.3" y1="253.52" x2="238.8" y2="253.52" stroke="#404040" stroke-width="1"/>
<line x1="236.3" y1="237.94" x2="238.8" y2="237.94" stroke="#404040" stroke-width="1"/>
<line x1="236.3" y1="222.36" x2="238.8" y2="222.36" stroke="#404040" stroke-width="1"/>
<line x1="236.3" y1="206.78" x2="238.8" y2="206.78" stroke="#404040" stroke-width="1"/>
<line x1="236.3" y1="191.2" x2="238.8" y2="191.2" stroke="#404040" stroke-width="1"/>
<text x="231.3" y="350.2" font-size="9.5" text-anchor="end" textLength="4.3" lengthAdjust="spacingAndGlyphs" fill="#2e2e2e">0</text>
<text x="231.3" y="319.04" font-size="9.5" text-anchor="end" textLength="4.3" lengthAdjust="spacingAndGlyphs" fill="#2e2e2e">5</text>
<text x="231.3" y="287.88" font-size="9.5" text-anchor="end" textLength="7.8" lengthAdjust="spacingAndGlyphs" fill="#2e2e2e">10</text>
<text x="231.3" y="256.72" font-size="9.5" text-anchor="end" textLength="7.8" lengthAdjust="spacingAndGlyphs" fill="#2e2e2e">15</text>
<text x="231.3" y="225.56" font-size="9.5" text-anchor="end" textLength="7.8" lengthAdjust="spacingAndGlyphs" fill="#2e2e2e">20</text>
<text x="231.3" y="194.4" font-size="9.5" text-anchor="end" textLength="7.8" lengthAdjust="spacingAndGlyphs" fill="#2e2e2e">25</text>
<text x="400.2" y="204.2" font-size="13" text-anchor="end" style="stroke-width:0.15px" fill="#2e2e2e">(c)</text>
<text transform="translate(215,267) rotate(-90)" font-size="8.4" text-anchor="middle" style="stroke-width:0.05px" fill="#2e2e2e" textLength="90" lengthAdjust="spacingAndGlyphs">Elongation at break (%)</text>
<line x1="57.25" y1="361.5" x2="57.25" y2="518.2" stroke="#e3e3e3" stroke-width="0.8"/>
<line x1="84.5" y1="361.5" x2="84.5" y2="518.2" stroke="#e3e3e3" stroke-width="0.8"/>
<line x1="111.75" y1="361.5" x2="111.75" y2="518.2" stroke="#e3e3e3" stroke-width="0.8"/>
<line x1="139" y1="361.5" x2="139" y2="518.2" stroke="#e3e3e3" stroke-width="0.8"/>
<line x1="166.25" y1="361.5" x2="166.25" y2="518.2" stroke="#e3e3e3" stroke-width="0.8"/>
<line x1="30" y1="486.86" x2="193.5" y2="486.86" stroke="#dadada" stroke-width="0.9"/>
<line x1="30" y1="455.52" x2="193.5" y2="455.52" stroke="#dadada" stroke-width="0.9"/>
<line x1="30" y1="424.18" x2="193.5" y2="424.18" stroke="#dadada" stroke-width="0.9"/>
<line x1="30" y1="392.84" x2="193.5" y2="392.84" stroke="#dadada" stroke-width="0.9"/>
<rect x="37.41" y="432.33" width="12.43" height="85.87" fill="url(#p_green)" stroke="#49bd66" stroke-width="0.75"/>
<rect x="64.66" y="404.44" width="12.43" height="113.76" fill="url(#p_red)" stroke="#ff2424" stroke-width="0.75"/>
<rect x="91.91" y="421.67" width="12.43" height="96.53" fill="url(#p_brown)" stroke="#c4845a" stroke-width="0.75"/>
<rect x="119.16" y="419.79" width="12.43" height="98.41" fill="url(#p_pink)" stroke="#d674d6" stroke-width="0.75"/>
<rect x="146.41" y="413.52" width="12.43" height="104.68" fill="url(#p_purple)" stroke="#a68bd8" stroke-width="0.75"/>
<rect x="173.66" y="406.32" width="12.43" height="111.88" fill="url(#p_blue)" stroke="#2da7e2" stroke-width="0.75"/>
<line x1="43.5" y1="428.25" x2="43.5" y2="436.4" stroke="#333" stroke-width="0.9"/>
<line x1="41.8" y1="428.25" x2="45.2" y2="428.25" stroke="#333" stroke-width="0.9"/>
<line x1="41.8" y1="436.4" x2="45.2" y2="436.4" stroke="#333" stroke-width="0.9"/>
<line x1="70.5" y1="393.47" x2="70.5" y2="415.4" stroke="#333" stroke-width="0.9"/>
<line x1="68.8" y1="393.47" x2="72.2" y2="393.47" stroke="#333" stroke-width="0.9"/>
<line x1="68.8" y1="415.4" x2="72.2" y2="415.4" stroke="#333" stroke-width="0.9"/>
<line x1="98.5" y1="404.44" x2="98.5" y2="438.91" stroke="#333" stroke-width="0.9"/>
<line x1="96.8" y1="404.44" x2="100.2" y2="404.44" stroke="#333" stroke-width="0.9"/>
<line x1="96.8" y1="438.91" x2="100.2" y2="438.91" stroke="#333" stroke-width="0.9"/>
<line x1="125.5" y1="409.14" x2="125.5" y2="430.45" stroke="#333" stroke-width="0.9"/>
<line x1="123.8" y1="409.14" x2="127.2" y2="409.14" stroke="#333" stroke-width="0.9"/>
<line x1="123.8" y1="430.45" x2="127.2" y2="430.45" stroke="#333" stroke-width="0.9"/>
<line x1="152.5" y1="402.24" x2="152.5" y2="424.81" stroke="#333" stroke-width="0.9"/>
<line x1="150.8" y1="402.24" x2="154.2" y2="402.24" stroke="#333" stroke-width="0.9"/>
<line x1="150.8" y1="424.81" x2="154.2" y2="424.81" stroke="#333" stroke-width="0.9"/>
<line x1="179.5" y1="396.29" x2="179.5" y2="416.35" stroke="#333" stroke-width="0.9"/>
<line x1="177.8" y1="396.29" x2="181.2" y2="396.29" stroke="#333" stroke-width="0.9"/>
<line x1="177.8" y1="416.35" x2="181.2" y2="416.35" stroke="#333" stroke-width="0.9"/>
<line x1="30" y1="361.5" x2="193.5" y2="361.5" stroke="#505050" stroke-width="1"/>
<line x1="193.5" y1="361.5" x2="193.5" y2="518.2" stroke="#555555" stroke-width="1.1"/>
<line x1="30" y1="361" x2="30" y2="518.7" stroke="#404040" stroke-width="1.3"/>
<line x1="29.5" y1="518.2" x2="194" y2="518.2" stroke="#404040" stroke-width="1.1"/>
<line x1="27.5" y1="518.2" x2="30" y2="518.2" stroke="#404040" stroke-width="1"/>
<line x1="27.5" y1="502.53" x2="30" y2="502.53" stroke="#404040" stroke-width="1"/>
<line x1="27.5" y1="486.86" x2="30" y2="486.86" stroke="#404040" stroke-width="1"/>
<line x1="27.5" y1="471.19" x2="30" y2="471.19" stroke="#404040" stroke-width="1"/>
<line x1="27.5" y1="455.52" x2="30" y2="455.52" stroke="#404040" stroke-width="1"/>
<line x1="27.5" y1="439.85" x2="30" y2="439.85" stroke="#404040" stroke-width="1"/>
<line x1="27.5" y1="424.18" x2="30" y2="424.18" stroke="#404040" stroke-width="1"/>
<line x1="27.5" y1="408.51" x2="30" y2="408.51" stroke="#404040" stroke-width="1"/>
<line x1="27.5" y1="392.84" x2="30" y2="392.84" stroke="#404040" stroke-width="1"/>
<line x1="27.5" y1="377.17" x2="30" y2="377.17" stroke="#404040" stroke-width="1"/>
<line x1="27.5" y1="361.5" x2="30" y2="361.5" stroke="#404040" stroke-width="1"/>
<text x="22.5" y="521.4" font-size="9.5" text-anchor="end" textLength="4.3" lengthAdjust="spacingAndGlyphs" fill="#2e2e2e">0</text>
<text x="22.5" y="490.06" font-size="9.5" text-anchor="end" textLength="4.3" lengthAdjust="spacingAndGlyphs" fill="#2e2e2e">1</text>
<text x="22.5" y="458.72" font-size="9.5" text-anchor="end" textLength="4.3" lengthAdjust="spacingAndGlyphs" fill="#2e2e2e">2</text>
<text x="22.5" y="427.38" font-size="9.5" text-anchor="end" textLength="4.3" lengthAdjust="spacingAndGlyphs" fill="#2e2e2e">3</text>
<text x="22.5" y="396.04" font-size="9.5" text-anchor="end" textLength="4.3" lengthAdjust="spacingAndGlyphs" fill="#2e2e2e">4</text>
<text x="22.5" y="364.7" font-size="9.5" text-anchor="end" textLength="4.3" lengthAdjust="spacingAndGlyphs" fill="#2e2e2e">5</text>
<text x="190.2" y="374.5" font-size="13" text-anchor="end" style="stroke-width:0.15px" fill="#2e2e2e">(d)</text>
<text transform="translate(8.1,443.8) rotate(-90)" font-size="8.4" text-anchor="middle" style="stroke-width:0.05px" fill="#2e2e2e" textLength="89" lengthAdjust="spacingAndGlyphs">Impact strength (kJ/m<tspan font-size="6" dy="-3">2</tspan><tspan dy="3">)</tspan></text>
<line x1="266.33" y1="362.2" x2="266.33" y2="518.8" stroke="#e3e3e3" stroke-width="0.8"/>
<line x1="293.67" y1="362.2" x2="293.67" y2="518.8" stroke="#e3e3e3" stroke-width="0.8"/>
<line x1="321" y1="362.2" x2="321" y2="518.8" stroke="#e3e3e3" stroke-width="0.8"/>
<line x1="348.33" y1="362.2" x2="348.33" y2="518.8" stroke="#e3e3e3" stroke-width="0.8"/>
<line x1="375.67" y1="362.2" x2="375.67" y2="518.8" stroke="#e3e3e3" stroke-width="0.8"/>
<line x1="239" y1="479.65" x2="403" y2="479.65" stroke="#dadada" stroke-width="0.9"/>
<line x1="239" y1="440.5" x2="403" y2="440.5" stroke="#dadada" stroke-width="0.9"/>
<line x1="239" y1="401.35" x2="403" y2="401.35" stroke="#dadada" stroke-width="0.9"/>
<rect x="246.43" y="417.4" width="12.46" height="101.4" fill="url(#p_green)" stroke="#49bd66" stroke-width="0.75"/>
<rect x="273.77" y="515.39" width="12.46" height="3.41" fill="url(#p_red)" stroke="#ff2424" stroke-width="0.75"/>
<rect x="301.1" y="412.7" width="12.46" height="106.1" fill="url(#p_brown)" stroke="#c4845a" stroke-width="0.75"/>
<rect x="328.43" y="429.93" width="12.46" height="88.87" fill="url(#p_pink)" stroke="#d674d6" stroke-width="0.75"/>
<rect x="355.77" y="431.89" width="12.46" height="86.91" fill="url(#p_purple)" stroke="#a68bd8" stroke-width="0.75"/>
<rect x="383.1" y="457.73" width="12.46" height="61.07" fill="url(#p_blue)" stroke="#2da7e2" stroke-width="0.75"/>
<line x1="252.5" y1="399.39" x2="252.5" y2="435.41" stroke="#333" stroke-width="0.9"/>
<line x1="250.8" y1="399.39" x2="254.2" y2="399.39" stroke="#333" stroke-width="0.9"/>
<line x1="250.8" y1="435.41" x2="254.2" y2="435.41" stroke="#333" stroke-width="0.9"/>
<line x1="280.5" y1="513.63" x2="280.5" y2="517.16" stroke="#333" stroke-width="0.9"/>
<line x1="278.8" y1="513.63" x2="282.2" y2="513.63" stroke="#333" stroke-width="0.9"/>
<line x1="278.8" y1="517.16" x2="282.2" y2="517.16" stroke="#333" stroke-width="0.9"/>
<line x1="307.5" y1="387.65" x2="307.5" y2="437.76" stroke="#333" stroke-width="0.9"/>
<line x1="305.8" y1="387.65" x2="309.2" y2="387.65" stroke="#333" stroke-width="0.9"/>
<line x1="305.8" y1="437.76" x2="309.2" y2="437.76" stroke="#333" stroke-width="0.9"/>
<line x1="334.5" y1="407.22" x2="334.5" y2="452.64" stroke="#333" stroke-width="0.9"/>
<line x1="332.8" y1="407.22" x2="336.2" y2="407.22" stroke="#333" stroke-width="0.9"/>
<line x1="332.8" y1="452.64" x2="336.2" y2="452.64" stroke="#333" stroke-width="0.9"/>
<line x1="362.5" y1="415.05" x2="362.5" y2="448.72" stroke="#333" stroke-width="0.9"/>
<line x1="360.8" y1="415.05" x2="364.2" y2="415.05" stroke="#333" stroke-width="0.9"/>
<line x1="360.8" y1="448.72" x2="364.2" y2="448.72" stroke="#333" stroke-width="0.9"/>
<line x1="389.5" y1="445.2" x2="389.5" y2="470.25" stroke="#333" stroke-width="0.9"/>
<line x1="387.8" y1="445.2" x2="391.2" y2="445.2" stroke="#333" stroke-width="0.9"/>
<line x1="387.8" y1="470.25" x2="391.2" y2="470.25" stroke="#333" stroke-width="0.9"/>
<line x1="239" y1="362.2" x2="403" y2="362.2" stroke="#505050" stroke-width="1"/>
<line x1="403" y1="362.2" x2="403" y2="518.8" stroke="#555555" stroke-width="1.1"/>
<line x1="239" y1="361.7" x2="239" y2="519.3" stroke="#404040" stroke-width="1.3"/>
<line x1="238.5" y1="518.8" x2="403.5" y2="518.8" stroke="#404040" stroke-width="1.1"/>
<line x1="236.5" y1="518.8" x2="239" y2="518.8" stroke="#404040" stroke-width="1"/>
<line x1="236.5" y1="499.22" x2="239" y2="499.22" stroke="#404040" stroke-width="1"/>
<line x1="236.5" y1="479.65" x2="239" y2="479.65" stroke="#404040" stroke-width="1"/>
<line x1="236.5" y1="460.07" x2="239" y2="460.07" stroke="#404040" stroke-width="1"/>
<line x1="236.5" y1="440.5" x2="239" y2="440.5" stroke="#404040" stroke-width="1"/>
<line x1="236.5" y1="420.92" x2="239" y2="420.92" stroke="#404040" stroke-width="1"/>
<line x1="236.5" y1="401.35" x2="239" y2="401.35" stroke="#404040" stroke-width="1"/>
<line x1="236.5" y1="381.77" x2="239" y2="381.77" stroke="#404040" stroke-width="1"/>
<line x1="236.5" y1="362.2" x2="239" y2="362.2" stroke="#404040" stroke-width="1"/>
<text x="231.3" y="522" font-size="9.5" text-anchor="end" textLength="9" lengthAdjust="spacingAndGlyphs" fill="#2e2e2e">0.0</text>
<text x="231.3" y="482.85" font-size="9.5" text-anchor="end" textLength="9" lengthAdjust="spacingAndGlyphs" fill="#2e2e2e">0.1</text>
<text x="231.3" y="443.7" font-size="9.5" text-anchor="end" textLength="9" lengthAdjust="spacingAndGlyphs" fill="#2e2e2e">0.2</text>
<text x="231.3" y="404.55" font-size="9.5" text-anchor="end" textLength="9" lengthAdjust="spacingAndGlyphs" fill="#2e2e2e">0.3</text>
<text x="231.3" y="365.4" font-size="9.5" text-anchor="end" textLength="9" lengthAdjust="spacingAndGlyphs" fill="#2e2e2e">0.4</text>
<text x="399.7" y="375.2" font-size="13" text-anchor="end" style="stroke-width:0.15px" fill="#2e2e2e">(e)</text>
<text transform="translate(215,441) rotate(-90)" font-size="8.4" text-anchor="middle" style="stroke-width:0.05px" fill="#2e2e2e" textLength="83" lengthAdjust="spacingAndGlyphs">Water absorption (%)</text>
<rect x="17.2" y="537.3" width="6" height="6" fill="url(#p_green)" stroke="#49bd66" stroke-width="0.9"/>
<text x="25.3" y="543.9" font-size="10" text-anchor="start" textLength="17.7" lengthAdjust="spacingAndGlyphs" fill="#2e2e2e">PLA</text>
<rect x="55.7" y="537.3" width="6" height="6" fill="url(#p_red)" stroke="#ff2424" stroke-width="0.9"/>
<text x="64.1" y="543.9" font-size="10" text-anchor="start" textLength="10.9" lengthAdjust="spacingAndGlyphs" fill="#2e2e2e">PP</text>
<rect x="87.8" y="537.3" width="6" height="6" fill="url(#p_brown)" stroke="#c4845a" stroke-width="0.9"/>
<text x="96.2" y="543.9" font-size="10" text-anchor="start" textLength="60.3" lengthAdjust="spacingAndGlyphs" fill="#2e2e2e">PLA:PP:0.0 phr</text>
<rect x="169.5" y="537.3" width="6" height="6" fill="url(#p_pink)" stroke="#d674d6" stroke-width="0.9"/>
<text x="178.2" y="543.9" font-size="10" text-anchor="start" textLength="60.9" lengthAdjust="spacingAndGlyphs" fill="#2e2e2e">PLA:PP:2.5 phr</text>
<rect x="252.4" y="537.3" width="6" height="6" fill="url(#p_purple)" stroke="#a68bd8" stroke-width="0.9"/>
<text x="260.8" y="543.9" font-size="10" text-anchor="start" textLength="61.2" lengthAdjust="spacingAndGlyphs" fill="#2e2e2e">PLA:PP:5.0 phr</text>
<rect x="334.2" y="537.3" width="6" height="6" fill="url(#p_blue)" stroke="#2da7e2" stroke-width="0.9"/>
<text x="343" y="543.9" font-size="10" text-anchor="start" textLength="65.7" lengthAdjust="spacingAndGlyphs" fill="#2e2e2e">PLA:PP:10.0 phr</text>
</svg>
</body></html>
